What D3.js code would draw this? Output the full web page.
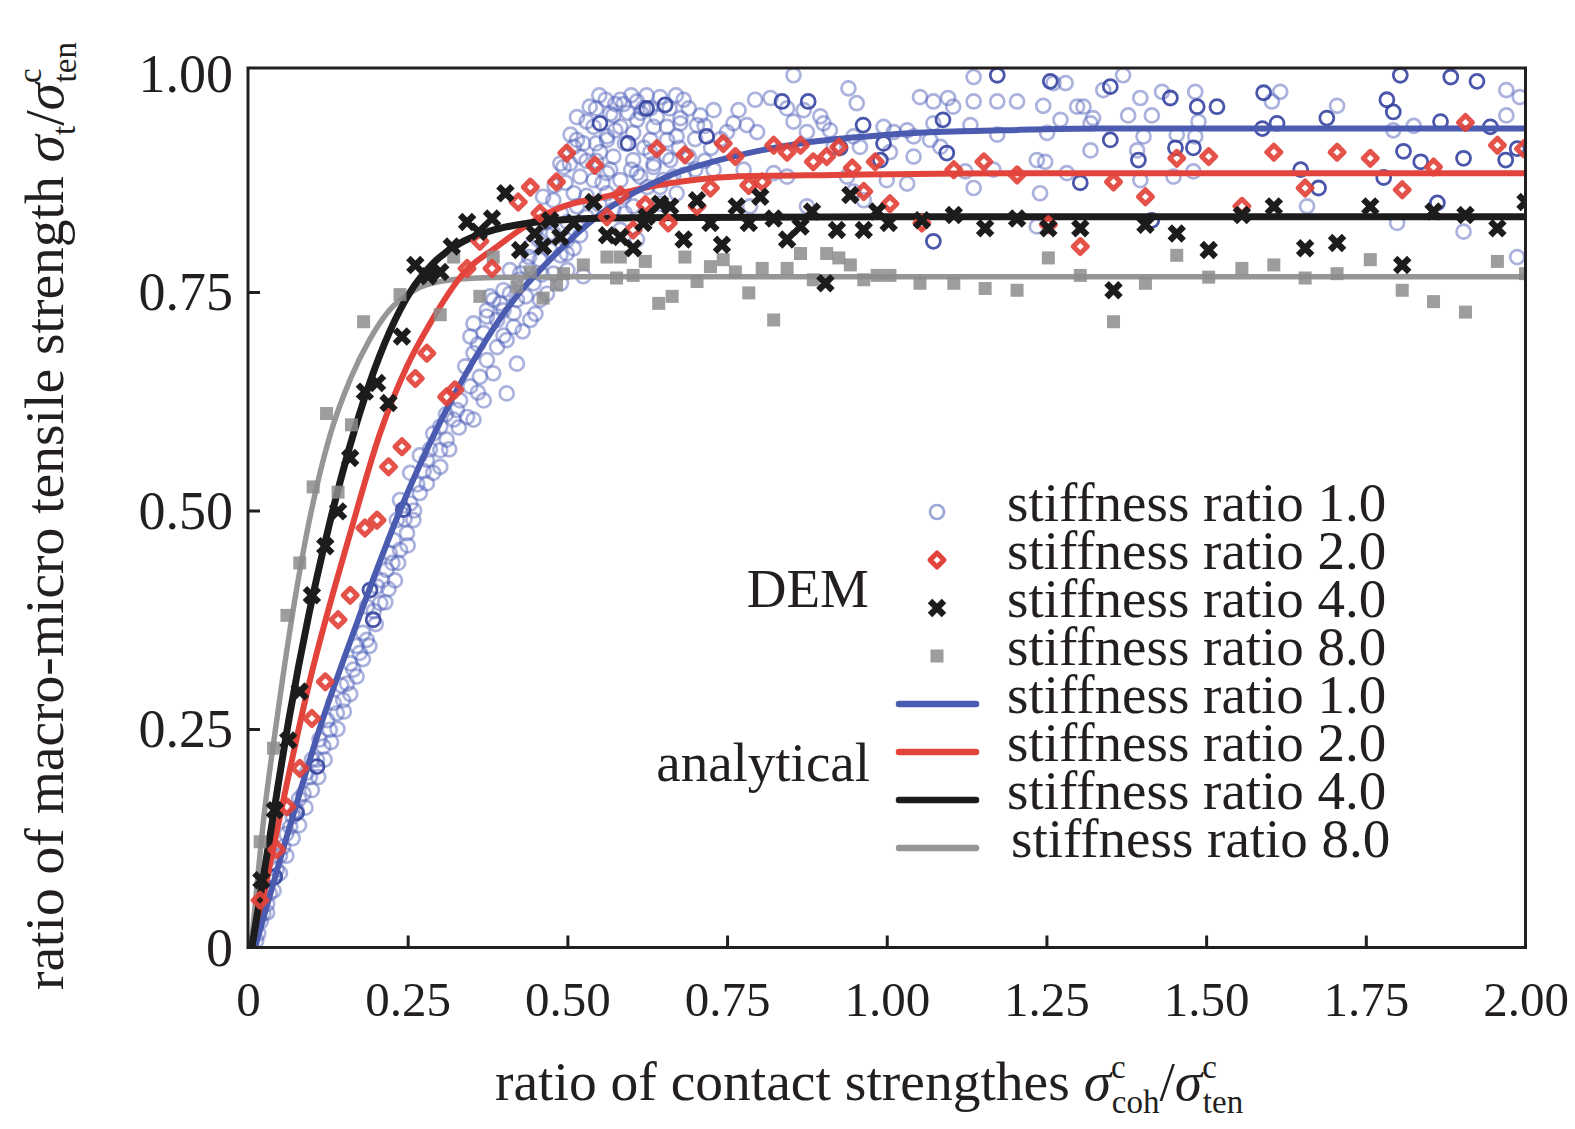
<!DOCTYPE html>
<html>
<head>
<meta charset="utf-8">
<script src="https://cdn.jsdelivr.net/npm/d3@7"></script>
<style>
  body { margin: 0; background: #fff; }
  text { font-family: "Liberation Serif", "Times New Roman", serif; fill: #231f20; }
</style>
</head>
<body>
<svg id="chart" width="1575" height="1129"></svg>
<script>
// ticks
var xTicks = [0, 0.25, 0.5, 0.75, 1.0, 1.25, 1.5, 1.75, 2.0];
var xTickLabels = ["0", "0.25", "0.50", "0.75", "1.00", "1.25", "1.50", "1.75", "2.00"];
var yTicks = [0, 0.25, 0.5, 0.75, 1.0];
var yTickLabels = ["0", "0.25", "0.50", "0.75", "1.00"];

var legendLabels = ["stiffness ratio 1.0", "stiffness ratio 2.0", "stiffness ratio 4.0", "stiffness ratio 8.0"];

// analytical curves
var curve1 = [[0.011,0.0],[0.05,0.1],[0.112,0.25],[0.175,0.38],[0.238,0.5],[0.3,0.6],[0.36,0.68],[0.416,0.741],[0.473,0.787],[0.546,0.836],[0.603,0.863],[0.656,0.882],[0.76,0.905],[0.865,0.92],[0.969,0.928],[1.073,0.933],[1.178,0.935],[1.334,0.937],[1.6,0.937],[2.0,0.937]];
var curve2 = [[0.008,0.0],[0.04,0.115],[0.097,0.306],[0.16,0.474],[0.207,0.589],[0.249,0.665],[0.285,0.714],[0.337,0.771],[0.39,0.802],[0.442,0.829],[0.494,0.848],[0.553,0.858],[0.656,0.874],[0.76,0.882],[0.916,0.884],[1.2,0.886],[2.0,0.886]];
var curve4 = [[0.006,0.0],[0.035,0.13],[0.065,0.265],[0.095,0.38],[0.126,0.48],[0.16,0.575],[0.19,0.645],[0.222,0.705],[0.254,0.75],[0.29,0.783],[0.33,0.805],[0.38,0.82],[0.44,0.829],[0.5,0.833],[0.6,0.835],[1.0,0.836],[2.0,0.836]];
var curve8 = [[0.005,0.0],[0.025,0.15],[0.045,0.26],[0.065,0.36],[0.092,0.474],[0.128,0.585],[0.16,0.65],[0.19,0.695],[0.22,0.728],[0.26,0.752],[0.3,0.762],[0.36,0.766],[0.5,0.7675],[1.0,0.7675],[2.0,0.7675]];

// DEM results, stiffness ratio 1.0 (light and dark circles)
var dem1Light = [
 [0.013,0.008],[0.016,0.016],[0.02,0.03],[0.024,0.039],[0.03,0.05],[0.034,0.062],[0.04,0.08],[0.045,0.089],[0.05,0.105],[0.055,0.115],[0.06,0.13],[0.066,0.138],[0.07,0.15],[0.076,0.157],[0.08,0.17],[0.087,0.176],[0.092,0.2],[0.097,0.195],[0.1,0.215],[0.108,0.215],[0.112,0.238],[0.118,0.23],[0.124,0.26],[0.128,0.249],[0.134,0.28],[0.139,0.268],[0.146,0.3],[0.149,0.283],[0.155,0.302],[0.16,0.325],[0.165,0.318],[0.17,0.345],[0.175,0.337],[0.18,0.36],[0.186,0.352],[0.186,0.39],[0.197,0.385],[0.202,0.413],[0.207,0.394],[0.21,0.42],[0.217,0.432],[0.226,0.44],[0.222,0.451],[0.228,0.466],[0.238,0.455],[0.238,0.512],[0.233,0.489],[0.249,0.474],[0.259,0.489],[0.254,0.508],[0.254,0.543],[0.269,0.52],[0.28,0.531],[0.29,0.543],[0.301,0.55],[0.28,0.558],[0.269,0.563],[0.301,0.569],[0.311,0.581],[0.29,0.588],[0.301,0.596],[0.322,0.604],[0.343,0.607],[0.353,0.604],[0.327,0.615],[0.369,0.626],[0.405,0.634],[0.332,0.626],[0.348,0.642],[0.363,0.653],[0.384,0.657],[0.421,0.668],[0.374,0.672],[0.353,0.68],[0.39,0.687],[0.405,0.695],[0.348,0.699],[0.369,0.703],[0.353,0.714],[0.39,0.718],[0.416,0.71],[0.442,0.718],[0.374,0.729],[0.395,0.737],[0.416,0.726],[0.379,0.745],[0.4,0.752],[0.421,0.741],[0.457,0.741],[0.426,0.764],[0.41,0.775],[0.447,0.76],[0.436,0.779],[0.457,0.787],[0.473,0.798],[0.489,0.792],[0.499,0.809],[0.478,0.817],[0.525,0.768],
 [0.442,0.802],[0.426,0.771],[0.41,0.748],[0.4,0.729],[0.384,0.741],[0.374,0.722],[0.468,0.748],[0.478,0.771],[0.499,0.794],
 [0.583,0.97],[0.624,0.975],[0.504,0.897],[0.525,0.92],[0.541,0.939],[0.567,0.954],[0.583,0.939],[0.609,0.947],[0.635,0.939],[0.656,0.924],[0.63,0.91],[0.603,0.901],[0.572,0.905],[0.551,0.91],[0.52,0.882],[0.494,0.893],[0.51,0.863],[0.541,0.878],[0.562,0.886],[0.583,0.878],[0.609,0.886],[0.635,0.893],[0.661,0.901],[0.666,0.882],[0.645,0.87],[0.588,0.859],[0.562,0.863],[0.515,0.848],[0.478,0.855],[0.462,0.859],[0.53,0.836],[0.572,0.844],[0.603,0.848],[0.645,0.851],[0.671,0.863],[0.603,0.932],[0.562,0.928],[0.51,0.916],[0.677,0.943],[0.645,0.973],[0.609,0.968],
 [0.489,0.897],[0.515,0.924],[0.48,0.872],[0.535,0.962],[0.55,0.975],[0.497,0.875],[0.52,0.905],
 [0.588,0.965],[0.619,0.96],[0.572,0.952],[0.562,0.924],[0.635,0.897],[0.567,0.89],[0.614,0.882],[0.65,0.878],[0.682,0.884],[0.729,0.89],[0.776,0.89],[0.823,0.886],[0.844,0.882],[0.938,0.882],[0.948,0.865],[0.964,0.855],[0.583,0.821],[0.609,0.81],[0.875,0.848],[0.786,0.848],
 [0.682,0.97],[0.677,0.949],[0.656,0.939],[0.671,0.928],[0.63,0.924],[0.708,0.952],[0.703,0.941],[0.729,0.958],[0.76,0.943],[0.75,0.933],[0.768,0.958],[0.781,0.941],[0.797,0.933],[0.794,0.97],[0.818,0.972],[0.844,0.96],[0.87,0.958],[0.854,0.945],[0.875,0.933],[0.896,0.951],[0.901,0.943],[0.917,0.916],[0.911,0.935],[0.948,0.928],[0.958,0.916],[0.854,0.998],[0.94,0.983],[0.953,0.966],
 [0.505,0.93],[0.515,0.95],[0.53,0.945],[0.545,0.96],[0.56,0.97],[0.575,0.965],[0.595,0.955],[0.6,0.975],[0.615,0.955],[0.63,0.96],[0.64,0.95],[0.66,0.96],[0.67,0.975],[0.69,0.96],[0.7,0.925],[0.715,0.94],[0.725,0.915],[0.74,0.925],[0.69,0.905],[0.7,0.89],[0.715,0.9],[0.675,0.915],[0.655,0.905],[0.62,0.915],[0.59,0.92],[0.575,0.935],[0.545,0.92],[0.53,0.9],[0.545,0.9],[0.555,0.875],[0.53,0.86],[0.6,0.89],[0.625,0.87],[0.59,0.84],[0.55,0.85],[0.5,0.83],[0.52,0.815],[0.49,0.84],[0.465,0.83],[0.455,0.81],[0.47,0.815],[0.44,0.79],[0.46,0.77],[0.5,0.775],[0.51,0.8],[0.49,0.76],[0.435,0.745],[0.45,0.725],[0.43,0.705],[0.4,0.7],[0.36,0.69],[0.34,0.665],[0.36,0.635],[0.33,0.595],[0.315,0.57],[0.31,0.61],[0.285,0.57],[0.275,0.545],[0.265,0.53],[0.26,0.5],[0.245,0.49],[0.25,0.46],[0.235,0.44],[0.23,0.42],[0.22,0.41],[0.215,0.395],[0.2,0.37],[0.19,0.345],[0.18,0.33],[0.17,0.31],[0.16,0.29],[0.15,0.27],[0.14,0.25],[0.13,0.235],[0.12,0.215],[0.11,0.195],[0.1,0.18],[0.09,0.16],[0.08,0.14],[0.07,0.125],[0.06,0.105],[0.05,0.085],[0.04,0.065],[0.03,0.04],
 [1.136,0.996],[1.052,0.973],[1.073,0.968],[1.096,0.972],[1.104,0.962],[1.136,0.968],[1.173,0.968],[1.204,0.968],[1.245,0.963],[1.261,0.989],[1.28,0.989],[1.298,0.962],[1.319,0.943],[1.272,0.947],[1.251,0.932],[1.173,0.93],[1.131,0.941],[1.073,0.943],[1.068,0.924],[1.084,0.916],[1.235,0.901],[1.248,0.899],[1.24,0.863],[1.136,0.869],[1.123,0.888],[1.167,0.89],[1.282,0.886],[1.032,0.874],[1.0,0.878],[1.005,0.91],[0.995,0.939],[1.032,0.935],[1.042,0.928],[1.011,0.933],[1.042,0.905],[1.235,0.825],
 [1.37,0.998],[1.339,0.981],[1.397,0.972],[1.431,0.979],[1.415,0.952],[1.378,0.952],[1.483,0.979],[1.616,0.979],[1.603,0.968],[1.705,0.963],[1.825,0.94],[1.793,0.935],[1.97,0.981],[1.97,0.952],[1.987,0.79],[1.903,0.819],[1.799,0.829],[1.658,0.848],[1.449,0.882],[1.48,0.888],[1.397,0.878],[1.392,0.912],[1.402,0.928],[1.454,0.93],[1.483,0.928],[1.488,0.945],[1.319,0.912],[1.323,0.949],[1.308,0.962],[1.991,0.973]
];
var dem1Dark = [[0.624,0.96],[0.653,0.964],[0.595,0.92],[0.836,0.968],[0.877,0.968],[0.963,0.941],[1.088,0.947],[1.173,0.998],[1.256,0.991],[1.303,0.875],[1.073,0.808],[1.094,0.909],[0.99,0.901],[0.718,0.928],[0.995,0.92],[1.35,0.985],[1.444,0.972],[1.486,0.962],[1.517,0.962],[1.59,0.978],[1.611,0.943],[1.588,0.937],[1.689,0.949],[1.783,0.97],[1.793,0.956],[1.804,0.998],[1.883,0.996],[1.924,0.991],[1.867,0.945],[1.945,0.939],[1.969,0.901],[1.987,0.914],[1.648,0.89],[1.676,0.869],[1.778,0.881],[1.809,0.911],[1.836,0.899],[1.903,0.903],[1.394,0.901],[1.35,0.924],[1.452,0.915],[1.48,0.915],[1.415,0.832],[1.862,0.852],[0.191,0.409],[0.196,0.375],[0.243,0.501],[0.042,0.081],[0.076,0.154],[0.108,0.207],[0.551,0.943],[0.927,0.915]];

// DEM results, stiffness ratio 2.0
var dem2 = [[0.019,0.054],[0.045,0.112],[0.061,0.161],[0.081,0.205],[0.1,0.262],[0.121,0.304],[0.141,0.375],[0.16,0.403],[0.183,0.48],[0.202,0.489],[0.22,0.55],[0.241,0.573],[0.262,0.651],[0.28,0.68],[0.311,0.63],[0.324,0.638],[0.343,0.777],[0.382,0.777],[0.363,0.808],[0.423,0.853],[0.457,0.84],[0.442,0.87],[0.483,0.876],[0.499,0.909],[0.543,0.895],[0.583,0.861],[0.562,0.836],[0.603,0.821],[0.622,0.85],[0.658,0.829],[0.64,0.914],[0.684,0.907],[0.703,0.848],[0.724,0.869],[0.744,0.92],[0.763,0.905],[0.784,0.872],[0.805,0.876],[0.823,0.918],[0.844,0.91],[0.865,0.918],[0.885,0.899],[0.906,0.905],[0.925,0.916],[0.946,0.892],[0.964,0.865],[0.982,0.899],[1.005,0.851],[1.055,0.829],[1.105,0.89],[1.152,0.899],[1.204,0.884],[1.253,0.827],[1.303,0.802],[1.355,0.876],[1.405,0.859],[1.454,0.903],[1.504,0.905],[1.556,0.848],[1.606,0.91],[1.655,0.869],[1.705,0.91],[1.757,0.903],[1.807,0.867],[1.856,0.893],[1.906,0.944],[1.956,0.918],[1.997,0.914]];

// DEM results, stiffness ratio 4.0
var dem4 = [[0.021,0.077],[0.042,0.157],[0.063,0.237],[0.081,0.293],[0.1,0.403],[0.121,0.459],[0.141,0.499],[0.16,0.56],[0.183,0.636],[0.202,0.646],[0.22,0.623],[0.241,0.699],[0.262,0.781],[0.282,0.768],[0.301,0.773],[0.319,0.802],[0.343,0.83],[0.361,0.819],[0.382,0.834],[0.403,0.863],[0.426,0.798],[0.449,0.817],[0.462,0.802],[0.473,0.832],[0.489,0.813],[0.51,0.829],[0.541,0.853],[0.562,0.815],[0.583,0.813],[0.603,0.8],[0.619,0.829],[0.624,0.836],[0.645,0.851],[0.661,0.848],[0.682,0.81],[0.703,0.855],[0.724,0.829],[0.742,0.804],[0.765,0.848],[0.784,0.829],[0.802,0.859],[0.823,0.834],[0.844,0.81],[0.865,0.825],[0.883,0.842],[0.904,0.76],[0.922,0.821],[0.943,0.861],[0.964,0.821],[0.985,0.842],[1.003,0.829],[1.055,0.832],[1.105,0.838],[1.154,0.823],[1.204,0.834],[1.253,0.823],[1.303,0.823],[1.355,0.752],[1.405,0.827],[1.454,0.817],[1.504,0.798],[1.556,0.838],[1.606,0.848],[1.655,0.8],[1.705,0.806],[1.757,0.848],[1.807,0.781],[1.856,0.842],[1.906,0.838],[1.956,0.823],[2.0,0.853]];

// DEM results, stiffness ratio 8.0
var dem8 = [[0.019,0.121],[0.04,0.228],[0.061,0.38],[0.081,0.44],[0.102,0.527],[0.123,0.611],[0.141,0.521],[0.162,0.598],[0.181,0.716],[0.238,0.747],[0.301,0.724],[0.322,0.79],[0.363,0.745],[0.384,0.79],[0.421,0.756],[0.442,0.773],[0.462,0.743],[0.483,0.758],[0.494,0.771],[0.525,0.781],[0.562,0.79],[0.577,0.766],[0.583,0.79],[0.603,0.769],[0.622,0.785],[0.643,0.737],[0.664,0.745],[0.684,0.79],[0.703,0.762],[0.724,0.779],[0.744,0.787],[0.763,0.773],[0.784,0.749],[0.805,0.777],[0.823,0.718],[0.844,0.777],[0.865,0.794],[0.885,0.764],[0.906,0.794],[0.925,0.789],[0.943,0.781],[0.964,0.764],[0.985,0.769],[1.005,0.769],[1.052,0.76],[1.105,0.76],[1.154,0.754],[1.204,0.752],[1.253,0.789],[1.303,0.769],[1.355,0.716],[1.405,0.76],[1.454,0.792],[1.504,0.767],[1.556,0.777],[1.606,0.781],[1.655,0.766],[1.705,0.771],[1.757,0.787],[1.807,0.752],[1.856,0.739],[1.906,0.727],[1.956,0.785],[2.0,0.771]];

var blue = "#4a5bb0", red = "#e2433b", black = "#1c1c1c", grey = "#969696";

var svg = d3.select("#chart");
var plotL = 248, plotR = 1525.5, plotT = 68, plotB = 947.5;

var x = d3.scaleLinear().domain([0, 2]).range([plotL, plotR]);
var y = d3.scaleLinear().domain([0, 1.0063]).range([plotB, plotT]);

svg.append("rect").attr("width", 1575).attr("height", 1129).attr("fill", "#fff");

svg.append("clipPath").attr("id", "plot")
  .append("rect").attr("x", plotL).attr("y", plotT)
  .attr("width", plotR - plotL).attr("height", plotB - plotT);

var g = svg.append("g").attr("clip-path", "url(#plot)");

// blue circles
g.selectAll(".c1").data(dem1Light).enter().append("circle")
  .attr("cx", function(d) { return x(d[0]); })
  .attr("cy", function(d) { return y(d[1]); })
  .attr("r", 7)
  .attr("fill", "none").attr("stroke", "#4d5fb8").attr("stroke-width", 2.7)
  .attr("stroke-opacity", 0.48);
g.selectAll(".c1d").data(dem1Dark).enter().append("circle")
  .attr("cx", function(d) { return x(d[0]); })
  .attr("cy", function(d) { return y(d[1]); })
  .attr("r", 7)
  .attr("fill", "none").attr("stroke", "#3544a0").attr("stroke-width", 2.8)
  .attr("stroke-opacity", 0.9);

// analytical lines
var line = d3.line()
  .x(function(d) { return x(d[0]); })
  .y(function(d) { return y(d[1]); })
  .curve(d3.curveMonotoneX);

[[curve8, grey, 5.5], [curve2, red, 6], [curve1, blue, 6], [curve4, black, 7]].forEach(function(c) {
  g.append("path").attr("d", line(c[0]))
    .attr("fill", "none").attr("stroke", c[1]).attr("stroke-width", c[2])
    .attr("stroke-linecap", "round");
});

// grey squares
g.selectAll(".s8").data(dem8).enter().append("rect")
  .attr("x", function(d) { return x(d[0]) - 6.5; })
  .attr("y", function(d) { return y(d[1]) - 6.5; })
  .attr("width", 13).attr("height", 13)
  .attr("fill", "#8c8c8c").attr("fill-opacity", 0.85);

// red diamonds
var diamond = "M0,-7L7,0L0,7L-7,0Z";
g.selectAll(".d2").data(dem2).enter().append("path")
  .attr("d", diamond)
  .attr("transform", function(d) { return "translate(" + x(d[0]) + "," + y(d[1]) + ")"; })
  .attr("fill", "none").attr("stroke", red).attr("stroke-width", 5)
  .attr("stroke-linejoin", "round").attr("stroke-opacity", 0.92);

// black crosses
var cross = "M-7,-7L7,7M7,-7L-7,7";
g.selectAll(".x4").data(dem4).enter().append("path")
  .attr("d", cross)
  .attr("transform", function(d) { return "translate(" + x(d[0]) + "," + y(d[1]) + ")"; })
  .attr("fill", "none").attr("stroke", black).attr("stroke-width", 6.3);

// axes
var xAxis = svg.append("g")
  .attr("transform", "translate(0," + plotB + ")")
  .call(d3.axisBottom(x).tickValues(xTicks)
    .tickFormat(function(d, i) { return xTickLabels[i]; })
    .tickSizeInner(-12).tickSizeOuter(0).tickPadding(34));
var yAxis = svg.append("g")
  .attr("transform", "translate(" + plotL + ",0)")
  .call(d3.axisLeft(y).tickValues(yTicks)
    .tickFormat(function(d, i) { return yTickLabels[i]; })
    .tickSizeInner(-12).tickSizeOuter(0).tickPadding(15));

[xAxis, yAxis].forEach(function(a) {
  a.select(".domain").remove();
  a.selectAll(".tick line").attr("stroke", "#231f20").attr("stroke-width", 3);
  a.selectAll(".tick text").attr("fill", "#231f20")
    .style("font-family", "'Liberation Serif', 'Times New Roman', serif");
});
xAxis.selectAll(".tick text").attr("font-size", 49);
yAxis.selectAll(".tick text").attr("font-size", 54).attr("dy", "0.33em");
xAxis.selectAll(".tick").filter(function(d) { return d === 0 || d === 2; }).select("line").remove();
yAxis.selectAll(".tick").filter(function(d) { return d === 0 || d === 1; }).select("line").remove();

svg.append("rect")
  .attr("x", plotL).attr("y", plotT)
  .attr("width", plotR - plotL).attr("height", plotB - plotT)
  .attr("fill", "none").attr("stroke", "#231f20").attr("stroke-width", 3);

// axis titles
var xt = svg.append("text").attr("x", 495).attr("y", 1100).attr("font-size", 55.5);
xt.append("tspan").text("ratio of contact strengthes ");
xt.append("tspan").attr("font-style", "italic").text("σ");
xt.append("tspan").attr("font-size", 33).attr("dy", -22).text("c");
xt.append("tspan").attr("font-size", 33).attr("dx", -14).attr("dy", 35).text("coh");
xt.append("tspan").attr("dy", -13).text("/");
xt.append("tspan").attr("font-style", "italic").text("σ");
xt.append("tspan").attr("font-size", 33).attr("dy", -22).text("c");
xt.append("tspan").attr("font-size", 33).attr("dx", -14).attr("dy", 35).text("ten");

var yt = svg.append("text").attr("transform", "translate(63,990) rotate(-90)").attr("font-size", 55.5);
yt.append("tspan").text("ratio of macro-micro tensile strength ");
yt.append("tspan").attr("font-style", "italic").text("σ");
yt.append("tspan").attr("font-size", 33).attr("dy", 12).text("t");
yt.append("tspan").attr("dy", -12).text("/");
yt.append("tspan").attr("font-style", "italic").text("σ");
yt.append("tspan").attr("font-size", 33).attr("dy", -22).text("c");
yt.append("tspan").attr("font-size", 33).attr("dx", -14).attr("dy", 35).text("ten");

// legend
svg.append("text").attr("x", 869).attr("y", 607).attr("text-anchor", "end").attr("font-size", 55).text("DEM");
svg.append("text").attr("x", 870).attr("y", 781).attr("text-anchor", "end").attr("font-size", 55).text("analytical");

var rowY = function(i) { return 512 + i * 48.0; };
var lg = svg.append("g");
lg.append("circle").attr("cx", 937).attr("cy", rowY(0)).attr("r", 7)
  .attr("fill", "none").attr("stroke", "#4d5fb8").attr("stroke-width", 2.7).attr("stroke-opacity", 0.55);
lg.append("path").attr("d", diamond).attr("transform", "translate(937," + rowY(1) + ")")
  .attr("fill", "none").attr("stroke", red).attr("stroke-width", 5).attr("stroke-linejoin", "round");
lg.append("path").attr("d", cross).attr("transform", "translate(937," + rowY(2) + ")")
  .attr("fill", "none").attr("stroke", black).attr("stroke-width", 6.3);
lg.append("rect").attr("x", 930.5).attr("y", rowY(3) - 6.5).attr("width", 13).attr("height", 13)
  .attr("fill", "#8c8c8c").attr("fill-opacity", 0.85);
[blue, red, black, grey].forEach(function(c, i) {
  lg.append("line").attr("x1", 899).attr("x2", 976)
    .attr("y1", rowY(4 + i)).attr("y2", rowY(4 + i))
    .attr("stroke", c).attr("stroke-width", 6.5).attr("stroke-linecap", "round");
});
legendLabels.concat(legendLabels).forEach(function(t, i) {
  lg.append("text").attr("x", i === 7 ? 1011 : 1007).attr("y", rowY(i) + 8.5)
    .attr("font-size", 55).text(t);
});
</script>
</body>
</html>
